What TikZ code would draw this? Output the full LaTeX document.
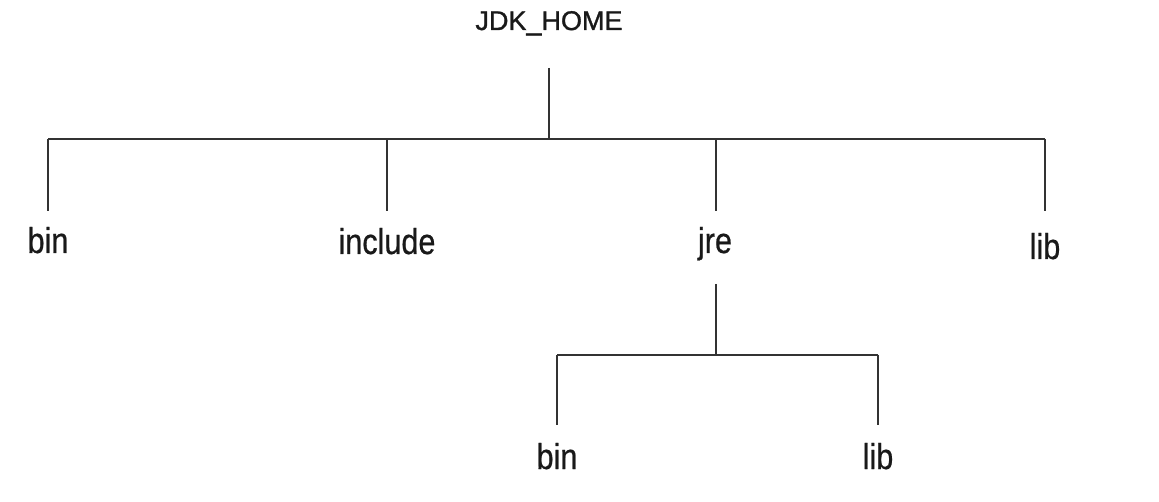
\documentclass[tikz,border=0pt]{standalone}
\usepackage{fontspec}
\setmainfont{Liberation Sans}[FakeStretch=0.85,FakeBold=0.6]
\newfontfamily\rootfont{Liberation Sans}[FakeStretch=1.0,FakeBold=1.2]
\begin{document}
\begin{tikzpicture}[x=1pt,y=-1pt,
  lbl/.style={inner sep=0pt,anchor=base,font=\fontsize{36}{40}\selectfont,text=black!90},
  rootlbl/.style={inner sep=0pt,anchor=base,font=\rootfont\fontsize{27}{32}\selectfont,text=black!90},
  tree/.style={line width=2.6pt,draw=black!80}]
\useasboundingbox (0,0) rectangle (1159,502);
% nodes
\node[rootlbl] (root) at (549,30) {JDK\_HOME};
\node[lbl] (bin) at (48,253) {bin};
\node[lbl] (include) at (387,254) {include};
\node[lbl] (jre) at (715,253) {jre};
\node[lbl] (lib) at (1045,259) {lib};
\node[lbl] (bintwo) at (557,469) {bin};
\node[lbl] (libtwo) at (878,469) {lib};
% join points
\coordinate (rootjoin) at (549,139);
\coordinate (drop) at (0,211);
\coordinate (jrejoin) at (716,355);
\coordinate (droptwo) at (0,425);
% top level
\draw[tree] ([yshift=-38pt]root.base) -- (rootjoin);
\draw[tree] (bin |- rootjoin) -- (lib |- rootjoin);
\draw[tree] (bin |- rootjoin) -- (bin |- drop);
\draw[tree] (include |- rootjoin) -- (include |- drop);
\draw[tree] (jrejoin |- rootjoin) -- (jrejoin |- drop);
\draw[tree] (lib |- rootjoin) -- (lib |- drop);
% jre subtree
\draw[tree] (jrejoin |- jre.base) ++(0,31) -- (jrejoin);
\draw[tree] (bintwo |- jrejoin) -- (libtwo |- jrejoin);
\draw[tree] (bintwo |- jrejoin) -- (bintwo |- droptwo);
\draw[tree] (libtwo |- jrejoin) -- (libtwo |- droptwo);
\end{tikzpicture}
\end{document}
